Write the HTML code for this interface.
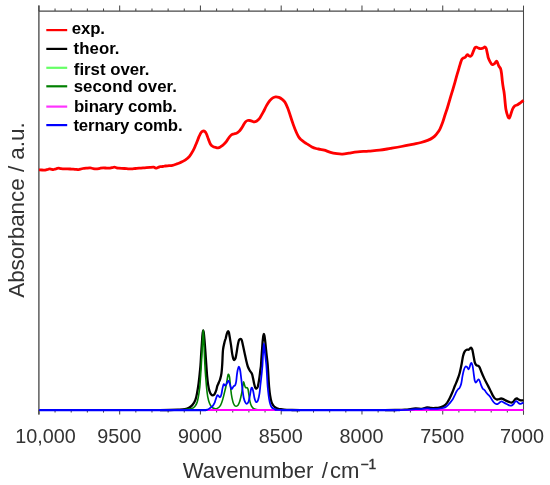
<!DOCTYPE html>
<html><head><meta charset="utf-8"><title>Spectrum</title>
<style>
html,body{margin:0;padding:0;background:#fff;}
svg{display:block;font-family:"Liberation Sans",Arial,sans-serif;}
.tk text{font-size:19.8px;fill:#333;}
.lg text{font-size:16.8px;font-weight:bold;fill:#000;}
.ax{font-size:22.1px;fill:#333;}
</style></head><body>
<svg width="550" height="485" viewBox="0 0 550 485">
<rect width="550" height="485" fill="#fff"/>
<g stroke="#484848" stroke-width="1.05" fill="none">
<path d="M38.9,11.1H523.5V414.6M38.9,410.0H523.5"/>
<path d="M38.9,5.6V414.6" stroke="#3c3c3c" stroke-width="1.25"/>
<line x1="38.90" y1="11.1" x2="38.90" y2="5.6"/><line x1="38.90" y1="410.0" x2="38.90" y2="414.6"/><line x1="55.05" y1="11.1" x2="55.05" y2="8.5"/><line x1="55.05" y1="410.0" x2="55.05" y2="412.6"/><line x1="71.21" y1="11.1" x2="71.21" y2="8.5"/><line x1="71.21" y1="410.0" x2="71.21" y2="412.6"/><line x1="87.36" y1="11.1" x2="87.36" y2="8.5"/><line x1="87.36" y1="410.0" x2="87.36" y2="412.6"/><line x1="103.51" y1="11.1" x2="103.51" y2="8.5"/><line x1="103.51" y1="410.0" x2="103.51" y2="412.6"/><line x1="119.67" y1="11.1" x2="119.67" y2="5.6"/><line x1="119.67" y1="410.0" x2="119.67" y2="414.6"/><line x1="135.82" y1="11.1" x2="135.82" y2="8.5"/><line x1="135.82" y1="410.0" x2="135.82" y2="412.6"/><line x1="151.97" y1="11.1" x2="151.97" y2="8.5"/><line x1="151.97" y1="410.0" x2="151.97" y2="412.6"/><line x1="168.13" y1="11.1" x2="168.13" y2="8.5"/><line x1="168.13" y1="410.0" x2="168.13" y2="412.6"/><line x1="184.28" y1="11.1" x2="184.28" y2="8.5"/><line x1="184.28" y1="410.0" x2="184.28" y2="412.6"/><line x1="200.43" y1="11.1" x2="200.43" y2="5.6"/><line x1="200.43" y1="410.0" x2="200.43" y2="414.6"/><line x1="216.59" y1="11.1" x2="216.59" y2="8.5"/><line x1="216.59" y1="410.0" x2="216.59" y2="412.6"/><line x1="232.74" y1="11.1" x2="232.74" y2="8.5"/><line x1="232.74" y1="410.0" x2="232.74" y2="412.6"/><line x1="248.89" y1="11.1" x2="248.89" y2="8.5"/><line x1="248.89" y1="410.0" x2="248.89" y2="412.6"/><line x1="265.05" y1="11.1" x2="265.05" y2="8.5"/><line x1="265.05" y1="410.0" x2="265.05" y2="412.6"/><line x1="281.20" y1="11.1" x2="281.20" y2="5.6"/><line x1="281.20" y1="410.0" x2="281.20" y2="414.6"/><line x1="297.35" y1="11.1" x2="297.35" y2="8.5"/><line x1="297.35" y1="410.0" x2="297.35" y2="412.6"/><line x1="313.51" y1="11.1" x2="313.51" y2="8.5"/><line x1="313.51" y1="410.0" x2="313.51" y2="412.6"/><line x1="329.66" y1="11.1" x2="329.66" y2="8.5"/><line x1="329.66" y1="410.0" x2="329.66" y2="412.6"/><line x1="345.81" y1="11.1" x2="345.81" y2="8.5"/><line x1="345.81" y1="410.0" x2="345.81" y2="412.6"/><line x1="361.97" y1="11.1" x2="361.97" y2="5.6"/><line x1="361.97" y1="410.0" x2="361.97" y2="414.6"/><line x1="378.12" y1="11.1" x2="378.12" y2="8.5"/><line x1="378.12" y1="410.0" x2="378.12" y2="412.6"/><line x1="394.27" y1="11.1" x2="394.27" y2="8.5"/><line x1="394.27" y1="410.0" x2="394.27" y2="412.6"/><line x1="410.43" y1="11.1" x2="410.43" y2="8.5"/><line x1="410.43" y1="410.0" x2="410.43" y2="412.6"/><line x1="426.58" y1="11.1" x2="426.58" y2="8.5"/><line x1="426.58" y1="410.0" x2="426.58" y2="412.6"/><line x1="442.73" y1="11.1" x2="442.73" y2="5.6"/><line x1="442.73" y1="410.0" x2="442.73" y2="414.6"/><line x1="458.89" y1="11.1" x2="458.89" y2="8.5"/><line x1="458.89" y1="410.0" x2="458.89" y2="412.6"/><line x1="475.04" y1="11.1" x2="475.04" y2="8.5"/><line x1="475.04" y1="410.0" x2="475.04" y2="412.6"/><line x1="491.19" y1="11.1" x2="491.19" y2="8.5"/><line x1="491.19" y1="410.0" x2="491.19" y2="412.6"/><line x1="507.35" y1="11.1" x2="507.35" y2="8.5"/><line x1="507.35" y1="410.0" x2="507.35" y2="412.6"/><line x1="523.50" y1="11.1" x2="523.50" y2="5.6"/><line x1="523.50" y1="410.0" x2="523.50" y2="414.6"/>
</g>
<g fill="none" stroke-linejoin="round" stroke-linecap="butt">
<path d="M38.9,169.9C39.4,169.9 41.0,170.0 42.0,170.0C43.0,170.0 44.3,170.2 45.2,170.1C46.1,170.0 46.8,169.7 47.5,169.5C48.2,169.3 48.8,168.9 49.5,168.9C50.2,168.9 50.9,169.2 51.5,169.3C52.1,169.4 52.5,169.7 53.2,169.6C53.9,169.5 54.9,169.0 55.8,168.8C56.6,168.6 57.4,168.2 58.3,168.2C59.2,168.2 60.0,168.6 61.0,168.7C62.0,168.8 63.0,168.9 64.1,168.9C65.2,168.9 66.3,168.8 67.5,168.8C68.7,168.8 70.2,169.0 71.4,169.1C72.7,169.2 73.8,169.2 75.0,169.3C76.2,169.4 77.6,169.7 78.6,169.6C79.6,169.5 80.3,169.2 81.0,169.0C81.7,168.8 82.1,168.7 83.0,168.5C83.9,168.3 85.3,168.2 86.5,168.1C87.7,168.0 89.2,167.8 90.3,167.9C91.4,168.0 92.0,168.3 93.0,168.5C94.0,168.7 94.9,168.9 96.1,168.9C97.3,168.9 98.8,168.5 100.0,168.3C101.2,168.1 102.2,167.9 103.4,167.9C104.6,167.9 105.9,168.1 107.0,168.1C108.1,168.1 109.1,168.3 110.0,168.2C110.9,168.1 111.8,167.8 112.5,167.6C113.2,167.4 113.7,167.2 114.4,167.2C115.1,167.2 115.8,167.6 116.5,167.8C117.2,168.0 117.4,168.1 118.7,168.2C120.0,168.3 123.0,168.4 124.5,168.5C126.0,168.6 126.8,168.7 128.0,168.8C129.2,168.9 130.6,169.0 131.8,168.9C133.1,168.8 134.3,168.6 135.5,168.5C136.7,168.4 137.8,168.3 139.1,168.2C140.3,168.1 141.8,168.0 143.0,167.9C144.2,167.8 145.2,167.8 146.4,167.7C147.6,167.6 148.8,167.5 150.0,167.4C151.2,167.3 152.7,167.1 153.6,167.2C154.5,167.3 154.7,167.7 155.2,167.9C155.7,168.1 156.0,168.3 156.5,168.2C157.0,168.1 157.7,167.6 158.3,167.3C158.9,167.1 159.4,166.8 160.2,166.7C160.9,166.6 162.0,166.6 162.8,166.5C163.7,166.4 164.3,166.1 165.3,166.0C166.3,165.9 167.8,165.8 169.0,165.7C170.2,165.6 171.2,165.6 172.5,165.3C173.8,165.0 175.7,164.3 176.9,163.9C178.2,163.5 178.6,163.3 180.0,162.7C181.4,162.1 183.5,161.3 185.1,160.2C186.7,159.1 188.2,157.9 189.5,156.3C190.8,154.7 192.0,152.7 193.1,150.7C194.2,148.7 195.0,146.5 196.0,144.2C197.0,141.9 198.1,138.8 198.9,136.9C199.8,135.0 200.4,133.5 201.1,132.5C201.8,131.5 202.4,131.3 203.0,131.1C203.6,130.9 204.1,130.9 204.7,131.4C205.3,131.9 205.9,132.7 206.5,134.0C207.1,135.3 207.7,137.4 208.4,139.1C209.1,140.8 209.8,143.0 210.5,144.2C211.2,145.4 211.8,145.9 212.7,146.4C213.5,146.9 214.7,147.2 215.6,147.4C216.5,147.6 217.2,147.9 218.1,147.8C218.9,147.7 219.8,147.2 220.7,146.7C221.6,146.1 222.6,145.4 223.6,144.5C224.6,143.6 225.6,142.5 226.5,141.3C227.4,140.1 228.4,138.4 229.2,137.3C230.0,136.2 230.4,135.6 231.2,135.0C232.0,134.4 232.9,134.3 233.8,134.0C234.7,133.7 235.6,133.7 236.4,133.3C237.2,132.9 238.1,132.2 238.9,131.5C239.7,130.8 240.4,129.9 241.1,128.9C241.8,127.9 242.6,126.5 243.3,125.3C244.0,124.1 244.8,122.7 245.5,121.9C246.2,121.1 246.9,120.7 247.6,120.5C248.3,120.3 249.1,120.4 249.8,120.5C250.5,120.6 251.3,121.0 252.0,121.2C252.7,121.4 253.5,121.9 254.2,121.9C254.9,121.9 255.7,121.7 256.4,121.3C257.1,120.9 257.9,120.1 258.5,119.5C259.1,118.9 259.2,118.9 260.0,117.7C260.8,116.5 262.1,114.2 263.2,112.2C264.3,110.2 265.4,107.5 266.5,105.6C267.6,103.7 268.8,102.0 269.8,100.7C270.9,99.4 271.8,98.5 272.8,97.9C273.8,97.3 274.6,97.0 275.6,96.9C276.6,96.8 277.8,97.0 278.9,97.4C280.0,97.8 281.2,98.6 282.2,99.4C283.2,100.2 284.1,100.8 285.0,102.3C285.9,103.8 286.8,105.8 287.7,108.1C288.6,110.4 289.6,113.5 290.5,116.3C291.4,119.0 292.4,122.0 293.3,124.6C294.2,127.2 295.3,129.9 296.2,132.0C297.1,134.1 297.9,135.7 298.7,137.0C299.5,138.3 300.2,138.9 301.2,139.8C302.2,140.7 303.4,141.6 304.5,142.4C305.6,143.2 306.6,143.7 307.8,144.4C309.0,145.2 310.5,146.2 311.9,146.9C313.3,147.6 314.6,148.1 316.0,148.5C317.4,148.9 318.8,149.0 320.2,149.3C321.6,149.6 322.6,149.7 324.3,150.2C326.0,150.7 328.4,151.8 330.5,152.4C332.6,153.0 335.0,153.4 337.0,153.7C339.0,154.0 340.5,154.2 342.5,154.1C344.5,154.0 346.5,153.6 349.0,153.2C351.5,152.8 354.4,152.2 357.7,151.9C361.0,151.6 365.0,151.4 368.6,151.1C372.2,150.8 375.9,150.6 379.5,150.2C383.1,149.8 386.9,149.0 390.5,148.4C394.1,147.8 397.8,147.2 401.4,146.5C405.0,145.8 409.0,145.0 412.3,144.3C415.6,143.6 418.4,143.2 421.0,142.5C423.6,141.8 425.6,141.2 427.6,140.4C429.6,139.6 431.6,138.5 433.0,137.5C434.4,136.5 435.2,135.7 436.3,134.3C437.4,132.9 438.8,131.3 439.8,129.3C440.9,127.3 441.7,124.9 442.6,122.5C443.5,120.1 444.2,117.5 445.0,115.0C445.8,112.5 446.6,110.5 447.5,107.5C448.4,104.5 449.4,101.1 450.6,96.9C451.9,92.7 453.9,86.0 455.0,82.1C456.1,78.1 456.6,76.2 457.5,73.2C458.4,70.2 459.4,66.5 460.1,64.3C460.8,62.1 461.1,60.8 461.6,59.8C462.1,58.8 462.3,58.7 462.9,58.3C463.5,57.9 464.5,57.9 465.2,57.3C465.9,56.7 466.7,55.0 467.3,54.7C467.9,54.4 468.2,55.3 468.7,55.6C469.2,55.9 469.8,56.5 470.3,56.4C470.8,56.3 471.3,56.0 471.8,55.1C472.3,54.2 473.0,52.1 473.5,50.9C474.0,49.7 474.5,48.3 475.0,47.7C475.5,47.1 475.8,47.0 476.4,47.1C477.0,47.2 477.7,47.8 478.5,48.1C479.3,48.4 480.3,48.7 481.1,48.7C481.9,48.7 482.7,48.4 483.3,48.1C483.9,47.8 484.4,46.8 484.9,46.8C485.4,46.8 485.8,47.2 486.2,48.4C486.6,49.6 487.1,52.5 487.5,54.1C487.9,55.7 487.9,56.6 488.3,57.9C488.7,59.2 489.4,60.6 490.0,61.7C490.6,62.8 491.2,63.8 491.7,64.3C492.2,64.8 492.7,64.6 493.2,64.5C493.7,64.4 494.2,64.1 494.7,63.6C495.2,63.1 495.9,61.5 496.4,61.3C496.8,61.1 497.0,61.6 497.4,62.4C497.8,63.2 498.4,65.2 498.9,66.2C499.4,67.2 500.2,67.5 500.6,68.7C501.0,69.9 501.2,71.2 501.5,73.2C501.8,75.2 502.0,78.2 502.3,80.8C502.6,83.3 503.0,86.2 503.4,88.5C503.8,90.8 504.0,91.3 504.4,94.8C504.8,98.2 505.3,105.6 505.9,109.2C506.5,112.8 507.3,114.9 507.9,116.4C508.5,117.9 508.9,118.4 509.4,118.1C509.9,117.8 510.3,115.9 510.8,114.4C511.3,112.9 511.9,110.6 512.5,109.2C513.1,107.8 513.6,106.8 514.5,106.1C515.4,105.3 516.6,105.3 517.6,104.7C518.6,104.1 519.7,103.3 520.7,102.6C521.7,101.9 523.0,100.7 523.5,100.3" stroke="#ff0000" stroke-width="2.8"/>
<path d="M160.0,410.1C161.7,410.1 167.0,410.1 170.0,410.0C173.0,409.9 175.5,409.8 178.0,409.7C180.5,409.6 183.1,409.6 185.0,409.2C186.9,408.8 188.1,408.2 189.4,407.5C190.7,406.8 191.6,406.1 192.6,404.8C193.6,403.5 194.7,401.8 195.4,399.9C196.1,398.0 196.5,396.1 197.0,393.4C197.5,390.7 198.2,386.8 198.6,383.5C199.0,380.2 199.4,376.8 199.7,373.7C200.0,370.6 200.2,368.6 200.5,365.0C200.8,361.4 201.0,356.2 201.3,352.0C201.6,347.8 201.9,343.2 202.1,340.0C202.3,336.8 202.5,334.6 202.7,333.0C202.9,331.4 203.0,330.5 203.2,330.5C203.4,330.5 203.6,331.4 203.8,333.0C204.0,334.6 204.2,336.8 204.5,340.0C204.8,343.2 205.1,347.8 205.4,352.0C205.7,356.2 206.0,361.0 206.3,365.0C206.6,369.0 206.8,372.6 207.1,375.9C207.4,379.2 207.7,382.1 208.1,384.6C208.5,387.2 209.0,389.6 209.5,391.2C210.0,392.8 210.6,393.8 211.2,394.5C211.8,395.2 212.2,395.4 212.8,395.3C213.4,395.2 213.9,395.0 214.5,394.2C215.1,393.4 215.6,392.0 216.1,390.6C216.6,389.2 216.9,387.1 217.4,385.7C217.9,384.3 218.4,383.6 218.8,382.5C219.2,381.4 219.7,380.7 220.1,379.2C220.5,377.7 221.1,376.1 221.4,373.7C221.8,371.3 221.9,368.9 222.2,365.0C222.5,361.1 222.6,353.8 223.0,350.0C223.4,346.2 224.1,344.2 224.5,342.3C224.9,340.4 225.3,339.8 225.7,338.5C226.0,337.2 226.3,335.6 226.6,334.5C226.9,333.4 227.3,332.3 227.6,331.8C227.9,331.3 228.1,331.1 228.3,331.3C228.5,331.5 228.8,331.8 229.0,332.8C229.2,333.8 229.4,335.3 229.8,337.4C230.1,339.5 230.7,342.9 231.1,345.6C231.5,348.4 231.8,351.7 232.2,353.9C232.6,356.1 233.0,357.8 233.3,358.8C233.7,359.8 234.0,360.1 234.3,360.0C234.7,359.9 235.1,359.5 235.4,358.5C235.8,357.5 236.0,356.0 236.4,353.9C236.8,351.8 237.3,347.9 237.7,345.6C238.1,343.3 238.6,341.4 238.9,340.3C239.2,339.2 239.5,339.4 239.8,339.2C240.1,339.0 240.5,338.8 240.8,339.0C241.1,339.2 241.4,339.2 241.8,340.3C242.2,341.4 242.5,343.3 243.0,345.6C243.5,347.9 244.2,351.1 244.8,353.9C245.4,356.6 246.1,360.0 246.6,362.1C247.1,364.2 247.3,365.1 247.8,366.5C248.3,367.9 249.0,369.3 249.7,370.5C250.4,371.7 251.3,372.4 251.9,373.7C252.5,375.0 252.6,376.5 253.0,378.1C253.4,379.7 253.7,381.9 254.1,383.5C254.5,385.1 254.8,386.6 255.2,387.4C255.6,388.2 256.1,388.7 256.5,388.5C256.9,388.3 257.4,387.9 257.9,386.3C258.3,384.8 258.8,381.8 259.2,379.2C259.6,376.6 260.0,372.9 260.3,370.5C260.6,368.1 260.8,367.9 261.0,365.0C261.2,362.1 261.5,356.8 261.8,353.0C262.1,349.2 262.4,344.8 262.6,342.0C262.9,339.2 263.1,337.3 263.3,336.0C263.5,334.7 263.7,334.0 263.9,334.0C264.1,334.0 264.3,334.7 264.5,336.0C264.7,337.3 265.0,339.2 265.3,342.0C265.6,344.8 266.0,349.2 266.4,353.0C266.8,356.8 267.4,361.2 267.7,365.0C268.0,368.8 268.2,372.3 268.4,375.9C268.6,379.5 268.8,383.5 269.1,386.8C269.4,390.1 269.7,392.9 270.1,395.5C270.5,398.1 271.0,400.5 271.5,402.1C272.0,403.8 272.6,404.5 273.2,405.4C273.8,406.3 274.5,406.9 275.4,407.5C276.3,408.1 277.2,408.5 278.6,408.9C280.1,409.2 281.9,409.4 284.1,409.6C286.3,409.8 289.4,409.9 292.0,410.0C294.6,410.1 298.7,410.1 300.0,410.1" stroke="#000" stroke-width="2.3"/>
<path d="M385.0,410.1C386.7,410.1 391.7,410.1 395.0,410.0C398.3,409.9 401.6,409.9 405.0,409.6C408.4,409.4 412.7,408.6 415.5,408.5C418.3,408.4 419.7,409.0 421.6,408.8C423.5,408.6 425.6,407.4 427.1,407.3C428.7,407.2 429.5,407.9 430.9,408.0C432.3,408.1 434.1,408.1 435.6,408.0C437.2,407.9 438.8,407.7 440.2,407.3C441.6,406.9 442.9,406.5 444.1,405.7C445.3,404.9 446.2,403.9 447.2,402.6C448.1,401.3 448.9,399.8 449.8,398.0C450.7,396.2 451.8,393.8 452.6,391.8C453.5,389.8 454.1,387.8 454.9,385.8C455.7,383.8 456.5,382.1 457.3,380.0C458.1,377.9 458.9,375.8 459.6,373.2C460.3,370.6 460.9,367.5 461.5,364.7C462.1,361.9 462.5,358.4 463.0,356.2C463.5,354.0 464.0,352.7 464.6,351.6C465.2,350.5 465.9,350.0 466.6,349.7C467.3,349.4 468.0,349.9 468.6,349.7C469.2,349.5 469.6,348.8 470.0,348.5C470.4,348.2 470.8,347.5 471.2,347.7C471.6,347.9 471.9,348.2 472.3,349.6C472.7,351.0 473.2,354.1 473.6,356.2C474.0,358.3 474.4,360.9 474.8,362.4C475.2,363.9 475.7,364.5 476.3,365.1C476.9,365.7 477.6,365.4 478.2,365.8C478.8,366.2 479.2,366.5 479.7,367.5C480.2,368.5 480.6,370.1 481.3,371.7C482.0,373.3 482.8,375.4 483.6,377.1C484.4,378.8 485.1,380.3 485.9,381.8C486.7,383.3 487.4,384.6 488.2,386.1C489.0,387.6 489.8,389.4 490.6,391.0C491.4,392.6 492.2,394.4 492.9,395.7C493.6,396.9 494.2,397.9 494.9,398.5C495.6,399.1 496.4,399.4 497.1,399.5C497.8,399.6 498.4,399.3 499.1,399.1C499.8,398.9 500.4,398.5 501.1,398.5C501.8,398.5 502.4,398.8 503.2,399.1C504.0,399.5 505.0,400.1 506.0,400.6C507.0,401.1 508.2,401.6 509.1,401.9C510.0,402.2 510.7,402.7 511.4,402.6C512.1,402.5 512.9,402.1 513.5,401.5C514.1,400.9 514.7,399.7 515.3,399.2C515.9,398.7 516.3,398.4 516.9,398.5C517.5,398.6 518.1,399.2 518.7,399.5C519.3,399.8 519.9,400.2 520.7,400.3C521.5,400.4 523.0,400.3 523.5,400.3" stroke="#000" stroke-width="2.3"/>
<path d="M170.0,410.1C171.3,410.1 175.5,410.1 178.0,410.0C180.5,409.9 182.8,409.8 185.0,409.6C187.2,409.4 189.9,409.1 191.5,408.6C193.1,408.1 193.9,407.5 194.8,406.5C195.7,405.5 196.4,404.2 197.0,402.6C197.6,401.0 197.9,399.2 198.4,396.6C198.9,394.0 199.4,390.2 199.8,386.8C200.2,383.4 200.3,379.5 200.6,375.9C200.8,372.3 201.1,369.0 201.3,365.0C201.5,361.0 201.8,356.2 202.0,352.0C202.2,347.8 202.4,343.2 202.6,340.0C202.8,336.8 202.9,334.6 203.0,333.0C203.1,331.4 203.2,330.2 203.2,330.2C203.3,330.2 203.4,331.4 203.5,333.0C203.6,334.6 203.7,336.8 203.8,340.0C203.9,343.2 204.1,347.8 204.3,352.0C204.5,356.2 204.7,361.0 204.9,365.0C205.1,369.0 205.3,372.3 205.6,375.9C205.9,379.5 206.2,383.4 206.5,386.8C206.8,390.2 207.2,393.9 207.7,396.6C208.2,399.3 208.8,401.5 209.5,403.2C210.2,404.9 210.9,406.1 211.7,407.0C212.5,407.9 213.5,408.4 214.5,408.6C215.5,408.8 216.7,408.6 217.7,408.1C218.7,407.6 219.7,406.8 220.5,405.4C221.3,404.0 221.9,402.3 222.6,399.9C223.3,397.5 224.2,393.9 224.8,391.2C225.5,388.5 226.0,386.1 226.5,383.5C227.0,380.9 227.5,377.4 227.8,375.9C228.2,374.4 228.3,374.1 228.6,374.3C228.9,374.5 229.2,375.3 229.5,377.0C229.8,378.7 230.0,381.7 230.3,384.6C230.6,387.5 231.0,391.6 231.4,394.5C231.8,397.4 232.5,400.3 233.0,402.1C233.5,403.9 234.0,404.7 234.6,405.4C235.2,406.1 235.8,406.2 236.3,406.2C236.9,406.2 237.4,406.1 237.9,405.4C238.4,404.7 238.9,403.8 239.5,402.1C240.1,400.5 240.7,397.6 241.2,395.5C241.7,393.4 242.0,391.3 242.3,389.5C242.6,387.7 242.8,385.9 243.0,384.6C243.2,383.3 243.4,381.8 243.7,381.9C244.0,382.0 244.3,384.2 244.6,385.2C244.9,386.2 245.3,387.3 245.7,387.7C246.1,388.1 246.6,387.4 247.0,387.7C247.4,388.0 247.8,388.2 248.1,389.5C248.4,390.8 248.7,393.4 249.0,395.5C249.3,397.6 249.7,400.4 250.1,402.1C250.5,403.8 250.9,404.9 251.4,405.9C251.9,406.9 252.4,407.5 253.0,408.1C253.6,408.7 254.4,409.0 255.2,409.3C256.0,409.6 256.8,409.7 257.9,409.8C259.0,409.9 260.3,410.1 262.0,410.1C263.7,410.2 267.0,410.1 268.0,410.1" stroke="#008000" stroke-width="1.6"/>
<line x1="39.5" y1="410" x2="523.5" y2="410" stroke="#ff00ff" stroke-width="1.9"/>
<path d="M39.5,410.05H206M281,410.05H400" stroke="#0000ff" stroke-width="2.2"/>
<path d="M39.0,410.1C64.2,410.1 162.2,410.1 190.0,410.1C217.8,410.0 202.2,410.2 205.5,409.9C208.8,409.6 208.9,408.8 210.1,408.1C211.3,407.4 212.0,406.8 212.8,405.9C213.6,405.0 214.1,403.9 214.7,402.6C215.2,401.3 215.6,399.5 216.1,398.3C216.6,397.1 216.9,395.7 217.4,395.3C217.9,394.9 218.4,395.8 218.8,396.1C219.2,396.4 219.7,397.6 220.1,397.2C220.5,396.8 221.1,395.4 221.5,393.9C221.9,392.3 222.2,389.5 222.6,387.9C223.0,386.3 223.3,384.5 223.7,384.1C224.1,383.7 224.6,385.7 225.1,385.7C225.6,385.7 226.1,384.8 226.5,384.1C226.9,383.4 227.5,381.9 227.8,381.4C228.2,380.8 228.3,380.4 228.6,380.8C228.9,381.2 229.3,382.4 229.7,383.5C230.1,384.6 230.4,386.5 230.8,387.4C231.2,388.3 231.5,389.2 231.9,389.0C232.3,388.8 232.9,386.9 233.5,386.3C234.1,385.7 234.8,386.0 235.2,385.2C235.6,384.4 235.9,383.5 236.2,381.4C236.5,379.3 236.8,374.9 237.2,372.6C237.5,370.3 238.0,368.6 238.3,367.7C238.6,366.8 238.8,366.5 239.1,367.0C239.4,367.5 239.8,368.5 240.2,370.5C240.6,372.5 240.9,376.1 241.3,379.2C241.7,382.3 242.0,385.9 242.4,389.0C242.8,392.1 243.2,395.4 243.7,397.7C244.2,400.0 244.8,401.6 245.4,402.6C246.0,403.6 246.5,403.9 247.0,403.7C247.5,403.5 248.1,403.0 248.6,401.5C249.1,400.0 249.7,396.6 250.1,394.5C250.5,392.4 250.8,390.1 251.1,389.0C251.4,387.9 251.8,387.3 252.1,387.7C252.4,388.1 252.8,389.5 253.2,391.2C253.6,392.9 254.0,396.0 254.4,397.7C254.8,399.4 255.3,400.8 255.7,401.5C256.1,402.2 256.4,402.4 256.8,402.1C257.2,401.8 257.7,401.3 258.1,399.9C258.6,398.4 259.1,396.1 259.5,393.4C259.9,390.7 260.2,386.8 260.6,383.5C261.0,380.2 261.4,376.8 261.7,373.7C262.0,370.6 262.3,368.1 262.5,365.0C262.7,361.9 262.8,358.0 263.0,355.0C263.2,352.0 263.4,348.9 263.5,347.0C263.6,345.1 263.8,343.5 263.9,343.5C264.0,343.5 264.2,345.1 264.4,347.0C264.6,348.9 264.9,352.0 265.2,355.0C265.5,358.0 266.0,361.5 266.3,365.0C266.6,368.5 266.8,372.3 267.0,375.9C267.2,379.5 267.4,383.5 267.7,386.8C268.0,390.1 268.3,392.9 268.6,395.5C268.9,398.1 269.3,400.3 269.7,402.1C270.1,403.9 270.6,405.4 271.2,406.5C271.8,407.6 272.3,408.1 273.2,408.6C274.1,409.1 275.2,409.3 276.5,409.5C277.8,409.7 270.2,409.8 280.8,409.9C291.4,410.0 320.1,410.0 340.0,410.1C359.9,410.1 387.4,410.1 400.0,410.0C412.6,409.9 411.9,409.3 415.5,409.2C419.1,409.1 419.7,409.3 421.6,409.2C423.5,409.1 425.6,408.4 427.1,408.3C428.7,408.2 429.5,408.7 430.9,408.8C432.3,408.9 434.1,408.9 435.6,408.8C437.2,408.8 438.9,408.6 440.2,408.5C441.5,408.4 442.3,408.3 443.3,408.0C444.3,407.7 445.4,407.3 446.4,406.5C447.4,405.7 448.5,404.6 449.5,403.4C450.5,402.2 451.7,400.9 452.6,399.5C453.5,398.1 454.2,396.2 454.9,394.9C455.5,393.6 456.0,392.4 456.5,391.5C457.0,390.6 457.6,389.8 458.1,389.2C458.6,388.6 459.1,388.8 459.6,387.9C460.1,387.0 460.7,385.6 461.2,383.7C461.7,381.8 462.0,378.9 462.4,376.7C462.8,374.4 463.3,371.9 463.8,370.2C464.3,368.5 464.8,367.1 465.4,366.6C465.9,366.1 466.6,366.7 467.1,367.1C467.6,367.6 468.0,369.2 468.4,369.3C468.8,369.4 469.1,368.4 469.5,367.5C469.9,366.6 470.2,364.8 470.6,364.0C471.0,363.2 471.3,362.7 471.6,363.0C471.9,363.3 472.2,364.1 472.6,365.9C473.0,367.7 473.4,371.2 473.7,373.6C474.0,376.0 474.3,378.9 474.7,380.4C475.1,381.9 475.4,382.5 475.9,382.5C476.3,382.5 476.9,381.1 477.4,380.6C477.9,380.1 478.3,379.3 478.7,379.4C479.1,379.5 479.3,380.0 479.7,381.0C480.1,382.0 480.8,384.3 481.3,385.6C481.8,386.9 482.2,387.9 482.8,388.7C483.4,389.5 484.1,389.6 484.7,390.3C485.3,391.0 485.7,391.9 486.2,392.6C486.7,393.3 487.2,393.8 487.8,394.4C488.4,395.0 489.1,395.5 489.8,396.4C490.5,397.2 491.2,398.5 491.8,399.5C492.4,400.5 493.1,401.5 493.7,402.2C494.3,402.9 494.9,403.4 495.5,403.7C496.1,404.0 496.8,404.4 497.5,404.2C498.2,404.0 498.9,403.1 499.5,402.6C500.1,402.1 500.8,401.5 501.4,401.4C502.0,401.3 502.4,401.8 503.2,402.2C504.0,402.6 505.0,403.2 506.0,403.7C507.0,404.2 508.2,405.0 509.1,405.3C510.0,405.6 510.7,405.9 511.4,405.7C512.1,405.5 512.9,404.8 513.5,404.2C514.1,403.6 514.5,402.4 515.0,401.9C515.5,401.4 515.9,401.0 516.4,401.1C516.9,401.2 517.5,402.1 518.1,402.6C518.7,403.1 519.3,403.8 519.9,403.9C520.5,404.0 521.2,403.6 521.8,403.4C522.4,403.2 523.2,402.7 523.5,402.6" stroke="#0000ff" stroke-width="1.75"/>
</g>
<g class="tk"><text x="45.6" y="442.6" text-anchor="middle">10,000</text><text x="119.3" y="442.6" text-anchor="middle">9500</text><text x="200.0" y="442.6" text-anchor="middle">9000</text><text x="280.8" y="442.6" text-anchor="middle">8500</text><text x="361.6" y="442.6" text-anchor="middle">8000</text><text x="442.3" y="442.6" text-anchor="middle">7500</text><text x="521.9" y="442.6" text-anchor="middle">7000</text></g>
<g class="lg"><line x1="46.3" y1="30.1" x2="67.2" y2="30.1" stroke="#ff0000" stroke-width="2.2"/><text x="71.7" y="33.8" textLength="33.3" lengthAdjust="spacing">exp.</text><line x1="46.3" y1="48.9" x2="67.2" y2="48.9" stroke="#000000" stroke-width="2.2"/><text x="73.6" y="54.3" textLength="45.9" lengthAdjust="spacing">theor.</text><line x1="46.3" y1="67.8" x2="67.2" y2="67.8" stroke="#66ff66" stroke-width="2.2"/><text x="73.8" y="74.6" textLength="75.6" lengthAdjust="spacing">first over.</text><line x1="46.3" y1="86.3" x2="67.2" y2="86.3" stroke="#008000" stroke-width="2.2"/><text x="73.7" y="91.5" textLength="103.2" lengthAdjust="spacing">second over.</text><line x1="46.3" y1="106.6" x2="67.2" y2="106.6" stroke="#ff33ff" stroke-width="2.2"/><text x="74.0" y="112.3" textLength="103.0" lengthAdjust="spacing">binary comb.</text><line x1="46.3" y1="125.1" x2="67.2" y2="125.1" stroke="#0000ff" stroke-width="2.2"/><text x="73.4" y="130.8" textLength="109.2" lengthAdjust="spacing">ternary comb.</text></g>
<text class="ax" x="182.8" y="477.9">Wavenumber <tspan dx="2.2">/</tspan><tspan dx="2.2">cm</tspan><tspan font-size="13.8" dy="-8.6" dx="1" stroke="#333" stroke-width="0.45">−1</tspan></text>
<text class="ax" style="font-size:22.4px" transform="translate(23.5,297.8) rotate(-90)">Absorbance / a.u.</text>
</svg>
</body></html>
